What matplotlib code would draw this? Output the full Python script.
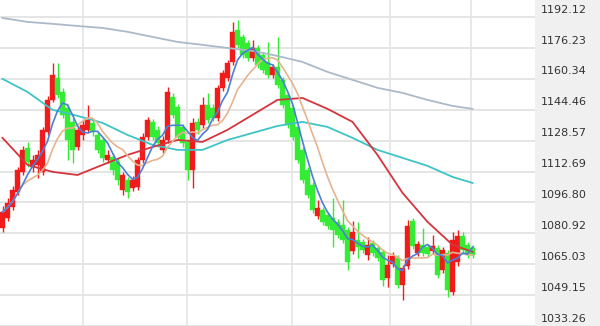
import matplotlib
matplotlib.use("Agg")
import matplotlib.pyplot as plt
import numpy as np
import pandas as pd

# ---- data ----
opens = [1083.7, 1088.8, 1094.5, 1102.2, 1112.5, 1124.8, 1115.1, 1116.1, 1112.5, 1133.1,
         1149.5, 1160.8, 1153.6, 1145.4, 1138.2, 1125.3, 1131.5, 1134.1, 1137.7, 1131.5,
         1128.9, 1118.7, 1120.2, 1117.6, 1103.2, 1108.4, 1104.3, 1104.8, 1118.7, 1130.5,
         1138.2, 1134.1, 1123.8, 1128.9, 1151.0, 1145.9, 1135.6, 1127.9, 1113.5, 1138.2,
         1136.6, 1146.9, 1145.4, 1140.2, 1155.7, 1160.8, 1169.0, 1185.5, 1181.9, 1178.8,
         1171.1, 1176.2, 1172.6, 1169.0, 1162.3, 1166.5, 1159.8, 1152.1, 1145.4, 1135.6,
         1123.8, 1113.5, 1105.8, 1089.9, 1093.0, 1090.4, 1088.8, 1086.8, 1085.2, 1082.7,
         1071.9, 1077.5, 1076.5, 1069.8, 1076.0, 1073.4, 1071.4, 1058.0, 1065.2, 1068.3,
         1054.4, 1064.2, 1087.3, 1070.9, 1075.0, 1073.9, 1071.9, 1073.4, 1062.1, 1070.9,
         1050.8, 1066.2, 1079.6, 1075.0, 1073.4]
closes = [1091.9, 1096.6, 1103.2, 1113.5, 1123.8, 1117.6, 1118.7, 1121.2, 1134.1, 1149.5,
          1162.3, 1152.1, 1141.8, 1128.9, 1123.8, 1134.1, 1136.6, 1139.2, 1133.1, 1123.8,
          1119.7, 1121.2, 1113.5, 1108.4, 1110.9, 1102.2, 1108.4, 1118.7, 1130.5, 1139.2,
          1130.5, 1127.4, 1128.9, 1153.6, 1141.8, 1130.5, 1127.4, 1113.5, 1137.7, 1134.1,
          1146.9, 1139.2, 1140.2, 1155.7, 1163.4, 1168.5, 1184.5, 1177.8, 1172.6, 1171.1,
          1176.2, 1167.5, 1164.9, 1162.3, 1166.5, 1157.2, 1146.9, 1136.6, 1130.5, 1118.7,
          1108.4, 1100.7, 1093.0, 1094.0, 1086.8, 1084.7, 1082.7, 1080.1, 1077.5, 1066.2,
          1081.7, 1073.9, 1072.4, 1075.0, 1070.9, 1068.3, 1057.0, 1064.7, 1069.3, 1054.4,
          1063.1, 1084.7, 1074.5, 1075.5, 1070.9, 1070.3, 1074.5, 1059.5, 1072.4, 1051.8,
          1077.5, 1079.6, 1072.4, 1069.8, 1069.8]
highs = [1095.0, 1099.1, 1105.3, 1115.1, 1125.9, 1127.9, 1121.2, 1123.8, 1135.6, 1151.6,
         1168.5, 1168.5, 1155.7, 1147.4, 1140.2, 1136.1, 1139.2, 1146.9, 1139.2, 1133.1,
         1130.5, 1123.8, 1122.3, 1119.7, 1112.5, 1109.9, 1110.4, 1120.2, 1132.5, 1140.8,
         1139.7, 1136.1, 1131.0, 1156.2, 1153.1, 1147.4, 1137.2, 1129.5, 1140.2, 1140.2,
         1151.0, 1153.1, 1147.4, 1157.2, 1164.9, 1170.1, 1189.6, 1190.6, 1183.4, 1180.3,
         1180.3, 1177.8, 1174.2, 1179.3, 1168.0, 1181.9, 1161.3, 1153.6, 1146.9, 1137.2,
         1125.3, 1115.1, 1107.4, 1098.1, 1094.5, 1091.9, 1099.1, 1088.3, 1098.1, 1084.2,
         1087.3, 1086.8, 1078.1, 1079.1, 1077.5, 1075.0, 1072.9, 1069.8, 1071.4, 1069.8,
         1064.7, 1087.8, 1088.8, 1077.0, 1083.7, 1075.5, 1080.1, 1075.0, 1073.9, 1072.4,
         1081.7, 1082.7, 1081.7, 1076.5, 1075.0]
lows = [1081.7, 1087.3, 1093.0, 1100.7, 1110.9, 1115.1, 1112.5, 1109.4, 1110.9, 1131.5,
        1148.5, 1150.5, 1140.2, 1118.7, 1117.1, 1123.8, 1128.9, 1132.5, 1131.0, 1122.3,
        1117.6, 1117.1, 1110.9, 1105.8, 1100.7, 1099.1, 1102.7, 1103.2, 1117.1, 1128.9,
        1128.9, 1125.3, 1122.3, 1127.4, 1140.2, 1128.9, 1125.3, 1108.4, 1104.3, 1132.0,
        1135.1, 1137.7, 1138.7, 1138.7, 1154.1, 1159.3, 1167.5, 1176.2, 1171.1, 1169.5,
        1169.5, 1165.9, 1163.4, 1160.8, 1160.8, 1155.7, 1145.4, 1135.1, 1128.9, 1117.1,
        1106.8, 1099.1, 1091.4, 1088.3, 1085.2, 1083.2, 1073.9, 1078.6, 1076.0, 1062.1,
        1070.3, 1068.3, 1070.9, 1067.3, 1069.3, 1066.7, 1053.9, 1053.4, 1063.7, 1052.9,
        1046.7, 1062.6, 1072.9, 1069.3, 1069.3, 1068.8, 1070.3, 1058.0, 1060.6, 1048.2,
        1049.3, 1064.2, 1070.9, 1068.3, 1068.3]

# longer moving averages read at every 5th candle
ma_idx = [0, 5, 10, 15, 20, 25, 30, 35, 40, 45, 50, 55, 60, 65, 70, 75, 80, 85, 90, 94]
ma_red = [1130.0, 1116.1, 1112.5, 1110.9, 1116.1, 1121.2, 1125.3, 1128.9, 1127.9, 1134.1,
          1141.8, 1149.5, 1150.5, 1144.9, 1138.2, 1121.2, 1101.7, 1086.8, 1075.0, 1071.4]
ma_teal = [1160.3, 1153.6, 1144.4, 1141.3, 1137.7, 1131.5, 1126.4, 1123.8, 1123.8, 1128.9,
           1132.5, 1136.1, 1138.2, 1135.6, 1130.0, 1123.8, 1119.7, 1115.6, 1109.9, 1106.8]
ma_gray = [1191.6, 1189.6, 1188.6, 1187.5, 1186.5, 1184.5, 1181.9, 1179.3, 1177.8, 1176.2,
           1174.7, 1172.1, 1169.0, 1163.9, 1159.8, 1155.7, 1153.1, 1149.5, 1146.4, 1144.9]

ytick_labels = ["1033.26", "1049.15", "1065.03", "1080.92", "1096.80", "1112.69",
                "1128.57", "1144.46", "1160.34", "1176.23", "1192.12"]
month_breaks = [16.1, 36.9, 57.9, 77.5, 93.7]

# ---- figure ----
W, H = 600, 326
fig = plt.figure(figsize=(W / 100, H / 100), dpi=100)
plot_right = 535 / W
ax = fig.add_axes([0, 0, plot_right, 1])
pan = fig.add_axes([plot_right, 0, 1 - plot_right, 1])

ymin, ymax = 1033.26, 1200.86
ax.set_xlim(-0.5, 106.5)
ax.set_ylim(ymin, ymax)

tick_vals = [float(t) for t in ytick_labels]
for v in tick_vals:
    ax.axhline(v, color="#e3e3e3", lw=1.3, zorder=0)
for b in month_breaks:
    ax.axvline(b, color="#e6e6e6", lw=1.3, zorder=0)

o = np.array(opens); c = np.array(closes); h = np.array(highs); l = np.array(lows)
x = np.arange(len(o))
up = c >= o
red = "#f21b1b"
green = "#34ec34"
cols = np.where(up, red, green)
ax.vlines(x, l, h, colors=cols, lw=1.0, zorder=2)
body_bottom = np.minimum(o, c)
body_h = np.maximum(np.abs(c - o), 0.6)
ax.bar(x, body_h, bottom=body_bottom, width=0.85, color=cols, edgecolor=cols, lw=0.3, zorder=3)

s = pd.Series(c)
ma5 = s.rolling(5, min_periods=1).mean()
ma10 = s.rolling(10, min_periods=1).mean()

ax.plot(ma_idx, ma_gray, color="#abb9c9", lw=1.3, zorder=4)
ax.plot(ma_idx, ma_teal, color="#3fc4c6", lw=1.3, zorder=4)
ax.plot(ma_idx, ma_red, color="#d6343c", lw=1.3, zorder=4)
ax.plot(x, ma10, color="#e6b38e", lw=1.2, zorder=5)
ax.plot(x, ma5, color="#4a80d8", lw=1.2, zorder=6)

ax.set_xticks([]); ax.set_yticks([])
for sp in ax.spines.values():
    sp.set_visible(False)
ax.set_facecolor("white")

pan.set_facecolor("#f0f0f0")
pan.set_xlim(0, 1)
pan.set_ylim(ymin, ymax)
pan.set_xticks([]); pan.set_yticks([])
for sp in pan.spines.values():
    sp.set_visible(False)
for v, lab in zip(tick_vals, ytick_labels):
    pan.text(0.09, v + 1.2, lab, ha="left", va="bottom", fontsize=8,
             color="#333333", family="DejaVu Sans")

fig.savefig("out.png", dpi=100)
